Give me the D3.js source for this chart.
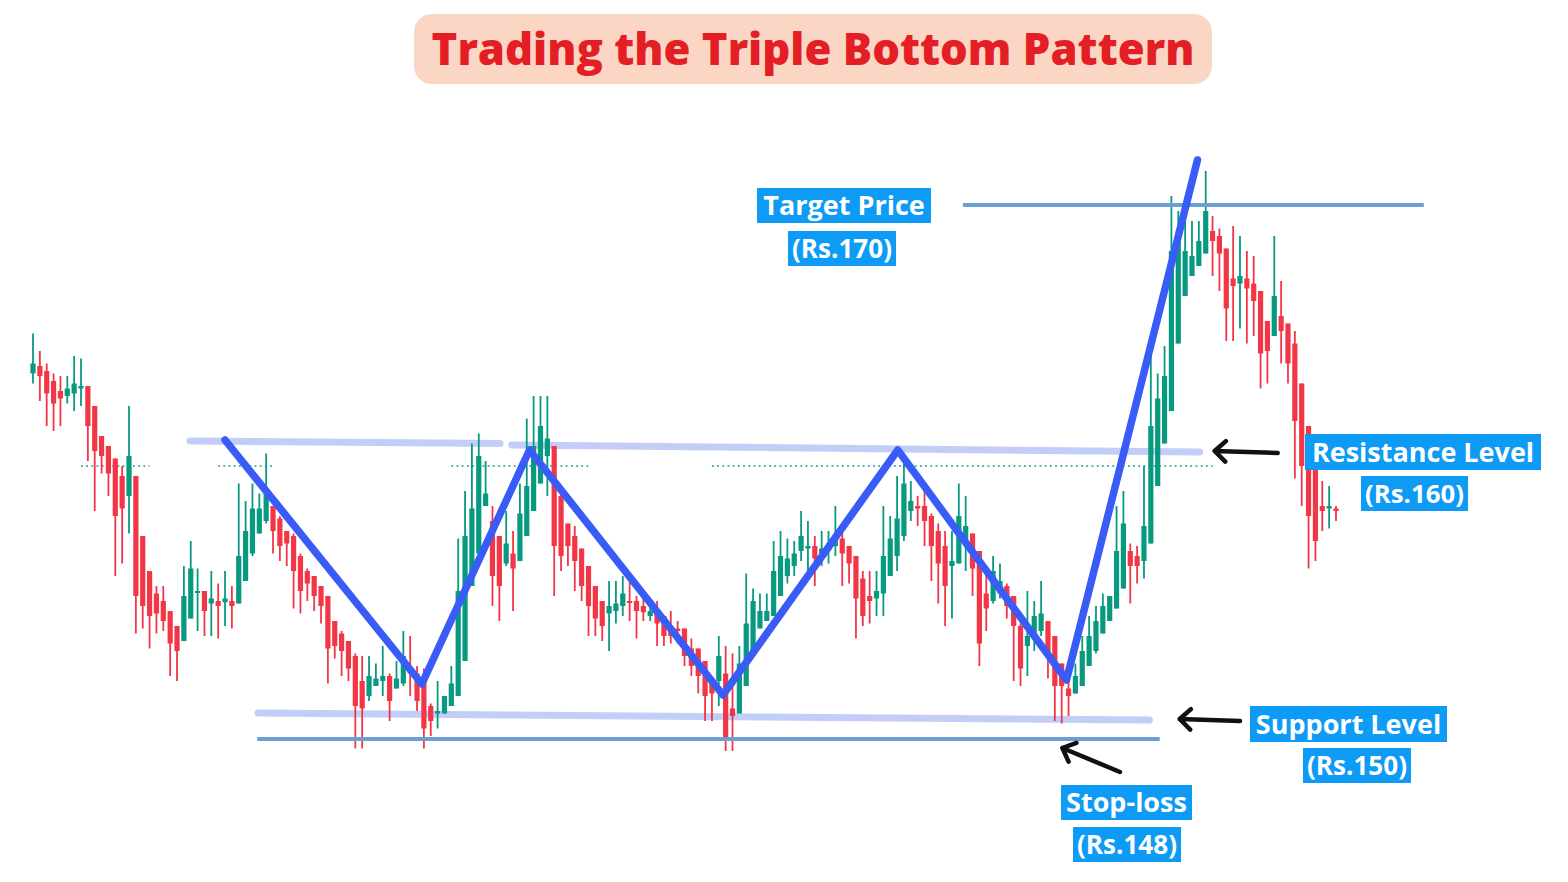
<!DOCTYPE html>
<html><head><meta charset="utf-8">
<script src="https://cdn.jsdelivr.net/npm/d3@7"></script>
<style>html,body{margin:0;padding:0;background:#fff;overflow:hidden}svg{display:block}</style>
</head><body>
<svg id="chart" width="1568" height="882"></svg>
<script>
// ---------------- DATA ----------------
const titleText = "Trading the Triple Bottom Pattern";

// candle values [open, high, low, close] in Rs
const ohlc = [
[163.7,165.3,163.3,164.1],[164.0,164.6,162.6,163.6],[163.8,164.1,161.6,162.9],[163.4,163.7,161.4,162.5],
[163.0,163.6,161.6,162.7],[162.8,163.6,162.5,163.1],[162.9,164.4,162.2,163.3],[163.1,164.3,162.4,163.2],
[163.2,163.2,160.2,161.6],[162.4,162.4,158.2,160.6],[161.2,161.2,159.7,160.4],[160.8,160.8,158.8,159.7],
[160.3,160.3,155.6,158.0],[159.6,160.0,156.1,158.3],[158.8,162.4,157.3,160.4],[159.6,159.6,153.3,154.8],
[157.2,157.2,153.5,154.4],[155.8,155.8,152.7,154.0],[154.9,155.2,153.3,154.1],[154.6,155.2,153.4,153.8],
[154.2,154.2,151.6,152.9],[153.6,153.6,151.4,152.6],[153.0,156.0,153.0,154.8],[153.9,157.0,153.9,155.9],
[154.95,155.9,153.4,155.0],[155.0,155.0,153.2,154.2],[154.5,155.8,153.2,154.7],[154.6,155.3,153.1,154.4],
[154.55,155.8,153.6,154.7],[154.6,155.2,153.5,154.4],[154.5,159.3,154.5,156.4],[155.4,158.6,155.4,157.4],
[156.5,159.3,156.4,158.3],[157.3,158.9,157.3,158.3],[157.8,160.5,157.7,158.9],[158.4,158.4,156.5,157.4],
[157.9,158.0,156.2,156.8],[157.4,157.4,156.0,156.9],[157.2,157.3,154.3,155.8],[156.4,156.5,154.1,155.0],
[155.8,155.9,154.6,155.3],[155.6,155.6,154.2,154.8],[155.2,155.2,153.7,154.4],[154.8,154.8,151.3,152.7],
[153.8,153.8,152.3,152.8],[153.3,153.4,151.6,152.6],[153.0,153.0,151.4,151.9],[152.4,152.5,148.7,150.4],
[151.4,152.4,148.7,150.3],[150.8,152.4,150.6,151.6],[151.2,152.1,151.2,151.5],[151.4,152.8,150.8,151.6],
[151.6,151.7,149.8,150.6],[151.1,152.2,151.1,151.5],[151.3,153.4,151.2,152.4],[151.8,153.2,150.8,151.7],
[151.7,152.0,150.2,150.6],[151.4,151.9,148.7,149.5],[150.4,150.5,149.2,149.8],[150.1,151.4,149.5,150.2],
[150.1,150.8,150.1,150.8],[150.4,152.0,150.4,151.3],[150.8,157.1,150.8,155.0],[152.2,159.0,152.2,157.2],
[155.2,160.9,155.2,158.3],[156.5,161.3,156.5,160.4],[158.4,160.2,158.4,158.9],[157.8,158.4,154.4,155.6],
[157.2,157.2,153.8,155.2],[156.1,158.2,156.0,156.9],[156.5,157.4,154.2,155.9],[156.2,159.3,156.2,158.1],
[157.2,161.9,157.2,159.2],[158.2,162.8,158.2,160.8],[159.3,162.8,159.3,161.6],[160.4,162.8,158.8,161.1],
[160.8,160.8,154.8,156.8],[158.8,158.9,155.8,156.4],[157.7,157.7,156.0,156.8],[157.2,157.6,155.0,156.2],
[156.7,156.7,154.6,155.2],[156.0,156.0,153.2,154.4],[155.2,155.2,153.2,153.9],[154.6,154.6,153.0,153.6],
[154.1,155.4,152.6,154.4],[154.2,155.4,153.7,154.5],[154.4,155.6,154.0,154.9],[154.6,155.6,153.8,154.55],
[154.6,154.8,153.1,154.2],[154.4,154.8,153.8,154.15],[154.0,154.4,153.8,154.2],[154.2,154.6,152.8,153.7],
[154.0,154.0,152.8,153.2],[153.6,154.2,152.9,153.2],[153.5,153.8,152.9,153.4],[153.5,153.5,152.0,152.4],
[152.7,153.1,151.6,152.0],[152.7,152.7,150.9,151.6],[152.2,152.2,149.8,150.8],[151.5,151.5,149.8,150.9],
[151.4,153.2,150.4,152.4],[151.7,152.8,148.6,149.0],[150.3,152.5,148.6,150.0],[150.1,152.8,150.1,152.1],
[151.2,155.7,151.2,153.7],[152.4,155.1,152.4,154.6],[153.5,154.9,153.5,154.2],[153.8,154.9,153.8,154.2],
[154.0,157.0,154.0,155.8],[154.8,157.4,154.8,156.4],[155.6,157.1,155.3,156.3],[156.0,157.0,155.6,156.5],
[156.6,158.2,156.2,157.2],[156.7,157.8,155.8,156.8],[156.8,157.2,155.2,156.3],[156.5,157.4,156.0,156.7],
[156.6,157.4,156.1,156.9],[156.8,158.4,156.4,157.2],[157.1,157.6,155.2,156.5],[156.8,156.8,155.3,156.1],
[156.4,156.4,153.1,154.7],[155.5,155.8,153.6,154.0],[154.8,155.8,153.7,154.6],[154.7,155.8,154.0,155.0],
[154.9,158.4,154.0,156.4],[155.6,158.0,155.6,157.1],[156.4,159.6,155.8,157.9],[157.2,160.1,157.0,159.3],
[158.2,159.4,157.8,158.6],[158.4,158.8,157.6,158.3],[158.4,159.2,156.8,157.8],[158.0,158.1,155.4,156.8],
[157.4,157.7,154.5,156.1],[156.8,157.4,153.6,155.2],[156.0,157.4,153.9,156.2],[156.1,159.3,156.1,158.0],
[157.0,158.8,155.8,157.6],[157.3,157.3,154.8,155.9],[156.6,156.6,152.0,152.9],[154.9,155.8,153.4,154.3],
[154.6,156.4,154.5,155.8],[154.9,156.1,154.7,155.4],[155.2,155.3,153.9,154.4],[154.8,154.8,151.4,153.6],
[153.6,153.7,151.2,151.9],[152.8,155.0,151.6,153.2],[153.1,154.6,152.6,154.0],[153.4,155.4,153.2,154.1],
[153.8,153.8,151.5,152.4],[153.2,153.2,149.8,151.2],[152.1,152.1,149.7,151.2],[151.1,151.5,150.0,150.8],
[150.9,152.1,150.9,151.6],[151.2,153.2,151.2,152.6],[152.0,154.0,152.0,153.2],[152.6,154.4,152.5,153.8],
[153.3,154.9,153.3,154.4],[153.8,154.8,153.8,154.8],[154.3,158.4,154.3,156.6],[155.1,159.0,155.1,157.7],
[156.6,156.9,154.5,156.0],[156.4,156.8,155.3,156.0],[156.2,160.0,155.5,157.6],[156.9,164.6,156.9,161.6],
[159.2,163.7,159.2,162.7],[160.9,164.8,160.9,163.6],[162.2,170.8,162.2,168.6],[164.9,170.2,164.9,169.4],
[166.8,170.0,166.8,168.6],[167.6,169.8,167.6,168.4],[168.0,169.8,168.0,169.0],[168.5,171.8,168.5,170.2],
[169.4,170.0,167.6,169.0],[169.2,169.5,167.0,168.5],[168.7,168.7,165.0,166.3],[167.5,169.6,165.0,167.2],
[167.3,169.2,165.5,167.6],[167.5,168.6,164.9,167.1],[167.3,168.4,165.2,166.6],[167.0,167.0,163.1,164.5],
[165.8,165.8,163.3,164.6],[165.2,169.2,165.2,166.8],[166.0,167.4,164.1,165.4],[165.7,165.7,163.3,164.1],
[164.9,165.4,159.5,161.8],[163.3,163.3,158.4,160.0],[161.6,161.6,155.9,158.0],[160.0,160.0,156.2,157.0],
[158.4,159.4,157.4,158.2],[158.3,159.2,157.5,158.4],[158.3,158.4,157.8,158.2]
];

// horizontal levels (Rs) and the candle-index span they cover
const targetLevel   = {value: 170.44, from: 135.6, to: 202.8};
const stopLossLevel = {value: 149.08, from: 32.7,  to: 164.3};
// hand-drawn translucent bands: [fromIndex, toIndex, fromValue, toValue]
const resistanceBands = [[22.9, 68.1, 161.0, 160.9], [69.8, 170.1, 160.84, 160.56]];
const supportBands    = [[32.8, 162.8, 150.12, 149.84]];
// dotted level at Rs.160: index spans
const dottedLevel = 160;
const dottedSpans = [[7, 17], [27, 35], [61, 81], [99, 172]];

// zig-zag pattern trace: candle index and Rs value of each vertex
const zigIndex = [28.0, 56.7, 72.4, 100.6, 126.1, 150.7, 169.8];
const zigValue = [161.04, 151.28, 160.64, 150.84, 160.64, 151.44, 172.24];

// arrows: [tailIndex, tailValue, headIndex, headValue]
const arrows = [
  [181.5, 160.52, 172.3, 160.60],
  [176.0, 149.80, 167.2, 149.88],
  [158.5, 147.76, 150.1, 148.72]
];

// annotation texts
const labelTexts = ["Target Price", "(Rs.170)", "Resistance Level", "(Rs.160)",
                    "Support Level", "(Rs.150)", "Stop-loss", "(Rs.148)"];

// ---------------- LAYOUT / STYLE ----------------
const labelBoxes = [
  {x: 757, y: 188, w: 174, h: 35}, {x: 788, y: 231, w: 108, h: 35},
  {x: 1305, y: 434, w: 236, h: 36}, {x: 1361, y: 476, w: 107, h: 35},
  {x: 1250, y: 706, w: 197, h: 36}, {x: 1303, y: 748, w: 108, h: 35},
  {x: 1061, y: 785, w: 131, h: 35}, {x: 1073, y: 827, w: 108, h: 35}
];
const GREEN = "#089981", RED = "#f23645";
const LABEL_BG = "#0d9bf5", LEVEL = "#6b9fd2", ZIG = "#3a5cf6", BAND = "#b3c2f6";

const svg = d3.select("#chart");
const x = d3.scaleLinear().domain([0, ohlc.length - 1]).range([33, 1336]);
const y = d3.scaleLinear().domain([150, 170]).range([716, 216]);

// title
svg.append("rect").attr("x", 414).attr("y", 14).attr("width", 798).attr("height", 70)
  .attr("rx", 18).attr("fill", "#fbd6c4");
const title = svg.append("text").attr("x", 813).attr("y", 65).attr("text-anchor", "middle")
  .attr("font-family", "'Open Sans', sans-serif").attr("font-weight", 800)
  .attr("font-size", 40).attr("fill", "#e31e24").text(titleText);
{
  const w = title.node().getComputedTextLength();
  title.attr("font-size", 40 * 763 / w);
}

// translucent bands
const bandLine = d3.line().x(d => x(d[0])).y(d => y(d[1]));
resistanceBands.concat(supportBands).forEach(b => {
  svg.append("path").attr("d", bandLine([[b[0], b[2]], [b[1], b[3]]]))
    .attr("stroke", BAND).attr("stroke-width", 7).attr("stroke-linecap", "round")
    .attr("fill", "none").attr("opacity", 0.8);
});

// dotted level
dottedSpans.forEach(s => {
  svg.append("line").attr("x1", x(s[0])).attr("x2", x(s[1]))
    .attr("y1", y(dottedLevel)).attr("y2", y(dottedLevel))
    .attr("stroke", "#2fa88a").attr("stroke-width", 1.8)
    .attr("stroke-dasharray", "1.8,3.4").attr("opacity", 0.85);
});

// candles
const g = svg.append("g");
const bodyW = 5.2;
ohlc.forEach((c, i) => {
  const [o, h, l, cl] = c;
  const col = cl >= o ? GREEN : RED;
  const cx = x(i);
  g.append("line").attr("x1", cx).attr("x2", cx).attr("y1", y(h)).attr("y2", y(l))
    .attr("stroke", col).attr("stroke-width", 1.8);
  const top = y(Math.max(o, cl)), bot = y(Math.min(o, cl));
  g.append("rect").attr("x", cx - bodyW / 2).attr("y", top)
    .attr("width", bodyW).attr("height", Math.max(bot - top, 2)).attr("fill", col);
});

// target & stop-loss lines
[targetLevel, stopLossLevel].forEach(L => {
  svg.append("line").attr("x1", x(L.from)).attr("x2", x(L.to))
    .attr("y1", y(L.value)).attr("y2", y(L.value))
    .attr("stroke", LEVEL).attr("stroke-width", 4);
});

// zig-zag trace
const zig = zigIndex.map((v, i) => [v, zigValue[i]]);
svg.append("path").attr("d", d3.line().x(d => x(d[0])).y(d => y(d[1]))(zig))
  .attr("fill", "none").attr("stroke", ZIG).attr("stroke-width", 7.5)
  .attr("stroke-linecap", "round").attr("stroke-linejoin", "round");

// arrows
arrows.forEach(a => {
  const tx = x(a[0]), ty = y(a[1]), hx = x(a[2]), hy = y(a[3]);
  const ang = Math.atan2(ty - hy, tx - hx);
  const len = 15, spread = 0.75;
  const p1 = [hx + len * Math.cos(ang + spread), hy + len * Math.sin(ang + spread)];
  const p2 = [hx + len * Math.cos(ang - spread), hy + len * Math.sin(ang - spread)];
  const path = d3.path();
  path.moveTo(tx, ty); path.lineTo(hx, hy);
  path.moveTo(p1[0], p1[1]); path.lineTo(hx, hy); path.lineTo(p2[0], p2[1]);
  svg.append("path").attr("d", path.toString()).attr("fill", "none")
    .attr("stroke", "#111").attr("stroke-width", 4.5)
    .attr("stroke-linecap", "round").attr("stroke-linejoin", "round");
});

// labels
labelTexts.forEach((t, i) => {
  const b = labelBoxes[i];
  svg.append("rect").attr("x", b.x).attr("y", b.y).attr("width", b.w).attr("height", b.h)
    .attr("fill", LABEL_BG);
  const tx = svg.append("text").attr("x", b.x + b.w / 2).attr("y", b.y + b.h / 2 + 9)
    .attr("text-anchor", "middle").attr("font-family", "'Open Sans', sans-serif")
    .attr("font-weight", 700).attr("font-size", 25).attr("fill", "#fff").text(t);
  const w = tx.node().getComputedTextLength();
  const fs = Math.min(27, 25 * (b.w - 8) / w);
  tx.attr("font-size", fs).attr("y", b.y + b.h / 2 + fs * 0.36);
});
</script>
</body></html>
